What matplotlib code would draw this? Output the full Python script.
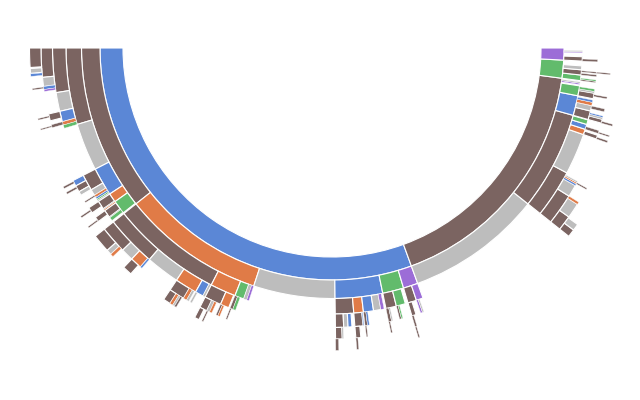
import numpy as np
import matplotlib
matplotlib.use("Agg")
import matplotlib.pyplot as plt

# category -> colour
COLORS = {"B": "#5b87d6", "O": "#e07b47", "G": "#62bb6c",
          "Y": "#bdbdbd", "N": "#7b6461", "P": "#9c6dd7"}

# ---- data: (category, value, children); '' = unlabelled remainder ----
blue_brown = ("N", 38.5, [
    ("N", 16.7, [
        ("N", 9.2, [
            ("N", 5.8, [("N", 3.7, []), ("", 0.2, []), ("Y", 0.9, []), ("", 0.1, []), ("B", 0.5, [])]),
            ("Y", 1.8, []),
            ("B", 0.6, [("", 0.1, []), ("N", 0.3, [])]),
            ("P", 0.4, []),
        ]),
        ("Y", 3.9, []),
        ("B", 2.2, [("N", 1.4, [("", 0.4, []), ("N", 0.3, [])])]),
        ("O", 0.7, [("N", 0.6, [("", 0.2, []), ("N", 0.25, [])])]),
        ("G", 0.7, []),
    ]),
    ("Y", 10.4, []),
    ("B", 6.2, [
        ("N", 3.4, [
            ("B", 1.2, [("", 0.2, []), ("N", 0.4, [])]),
            ("N", 1.3, [("", 0.2, []), ("N", 0.4, [])]),
            ("Y", 0.8, []),
        ]),
        ("Y", 1.3, []),
        ("O", 0.5, [("N", 0.3, [])]),
        ("B", 0.4, []), ("G", 0.3, []), ("Y", 0.3, []),
    ]),
    ("O", 2.0, [("N", 1.8, [("N", 1.2, [("", 0.5, []), ("N", 0.35, [])])]), ("Y", 0.2, [])]),
    ("G", 3.0, [("O", 0.3, []), ("N", 1.6, [("N", 1.0, [("", 0.6, []), ("N", 0.3, [])])]),
                ("Y", 0.2, []), ("G", 0.7, [])]),
])

blue_orange = ("O", 33.3, [
    ("N", 24.5, [
        ("N", 10.7, [
            ("N", 5.5, [("N", 3.5, []), ("Y", 1.0, []), ("O", 0.6, [])]),
            ("Y", 2.5, []),
            ("O", 2.3, [("N", 1.8, [])]),
            ("B", 0.4, []),
        ]),
        ("Y", 7.0, []),
        ("O", 4.6, [
            ("N", 3.1, [("N", 1.4, []), ("O", 0.6, []), ("Y", 0.4, []), ("N", 0.4, [])]),
            ("O", 0.7, []),
            ("Y", 0.5, []),
        ]),
        ("B", 1.7, [("Y", 0.4, [])]),
        ("Y", 0.5, []),
    ]),
    ("O", 5.6, [
        ("N", 3.5, [("N", 1.5, [("N", 0.9, [])]), ("Y", 0.6, [("N", 0.3, [])]), ("O", 0.5, [])]),
        ("O", 1.8, [("N", 0.4, []), ("O", 0.4, [])]),
    ]),
    ("G", 2.0, [("N", 0.6, [("N", 0.3, [])]), ("G", 0.6, [])]),
    ("Y", 0.7, []),
    ("P", 0.5, []),
])

blue_gray = ("Y", 18.9, [])

blue_blue = ("B", 11.0, [
    ("N", 4.0, [
        ("N", 1.7, [("N", 1.3, [("N", 0.6, [])]), ("Y", 0.3, [])]),
        ("Y", 0.9, []),
        ("B", 0.8, []),
    ]),
    ("O", 2.1, [("N", 1.7, [("N", 1.0, [("N", 0.4, [])])]), ("B", 0.2, [])]),
    ("B", 2.2, [("N", 0.5, [("N", 0.3, [])]), ("B", 0.4, [])]),
    ("Y", 1.6, []),
    ("P", 0.7, []),
])

blue_green = ("G", 4.9, [
    ("N", 2.3, [("N", 0.6, [("N", 0.3, [])]), ("Y", 0.3, [])]),
    ("G", 2.0, [("N", 0.4, []), ("G", 0.3, [])]),
])

blue_purple = ("P", 3.4, [
    ("N", 1.9, [("N", 0.9, [("N", 0.4, [("N", 0.3, [])])])]),
    ("P", 1.5, [("P", 0.4, []), ("Y", 0.3, [])]),
])

brown_gray = ("Y", 31.5, [])

brown_brown = ("N", 22.9, [
    ("N", 10.5, [
        ("N", 6.5, [
            ("N", 3.0, [("N", 1.5, []), ("Y", 1.3, [])]),
            ("Y", 3.0, []),
            ("O", 0.5, []),
        ]),
        ("Y", 2.5, []),
        ("B", 0.4, []),
        ("O", 0.3, [("N", 0.3, [])]),
        ("Y", 0.3, []),
    ]),
    ("Y", 9.0, []),
    ("O", 1.2, [("N", 0.8, [("N", 0.4, [])])]),
    ("B", 1.1, [("N", 0.6, [("N", 0.3, [])])]),
    ("G", 1.0, []),
])

brown_blue = ("B", 4.6, [
    ("N", 1.9, [("N", 0.8, [("N", 0.4, [])]), ("Y", 0.4, []), ("B", 0.3, [])]),
    ("Y", 1.2, [("", 0.5, []), ("N", 0.6, [])]),
    ("O", 0.7, []),
    ("B", 0.5, []),
])

brown_green = ("G", 2.3, [
    ("N", 1.2, [("", 0.5, []), ("N", 0.4, [])]),
    ("Y", 0.4, []),
    ("G", 0.5, []),
])

green_top = ("G", 4.5, [
    ("G", 1.3, [("N", 0.3, []), ("G", 0.3, [])]),
    ("N", 1.2, [("N", 0.4, []), ("", 0.3, []), ("N", 0.3, [("N", 0.3, [])])]),
    ("Y", 0.9, []),
])

purple_top = ("P", 3.0, [
    ("N", 1.0, [("N", 0.5, [])]),
    ("", 0.9, []),
    ("P", 0.25, []), ("Y", 0.25, []),
])

ring1 = [
    ("B", 110.0, [blue_brown, blue_orange, blue_gray, blue_blue, blue_green, blue_purple]),
    ("N", 62.5, [brown_gray, brown_brown, brown_blue, brown_green,
                 ("", 0.3, []), ("P", 0.3, []), ("Y", 0.3, [])]),
    green_top,
    purple_top,
]

# ---- layout (pixel-based radii, centre at 332,48 from top-left) ----
RING_EDGES = [209, 232, 250.5, 266, 279.5, 291, 302.5]
W, H = 640, 400
CX, CY = 332, 48
RMAX = 310

fig = plt.figure(figsize=(W / 100, H / 100), dpi=100)
fig.patch.set_facecolor("white")
ax = fig.add_axes([(CX - RMAX) / W, (H - CY - RMAX) / H, 2 * RMAX / W, 2 * RMAX / H],
                  projection="polar")
ax.set_theta_zero_location("W")
ax.set_theta_direction(1)
ax.set_ylim(0, RMAX)
ax.set_axis_off()

total = sum(v for _, v, _ in ring1)
scale = np.pi / total


def draw(nodes, start, level):
    pos = start
    for cat, val, kids in nodes:
        if cat and level < len(RING_EDGES) - 1:
            r0, r1 = RING_EDGES[level], RING_EDGES[level + 1]
            lw = 0.8 if val >= 0.8 else 0.3
            ax.bar(pos * scale, r1 - r0, width=val * scale, bottom=r0, align="edge",
                   color=COLORS[cat], edgecolor="white", linewidth=lw)
        if kids:
            draw(kids, pos, level + 1)
        pos += val


draw(ring1, 0.0, 0)

fig.savefig("out.png", dpi=100, facecolor="white")
